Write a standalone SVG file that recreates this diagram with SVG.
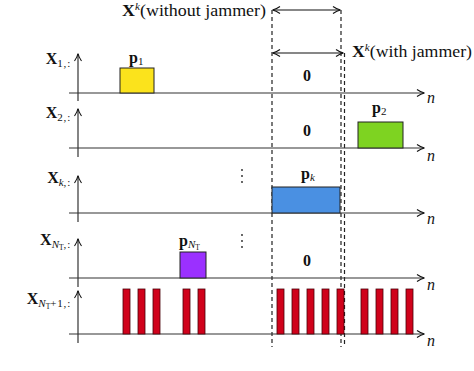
<svg xmlns="http://www.w3.org/2000/svg" width="474" height="371" viewBox="0 0 474 371">
<style>
text{font-family:"Liberation Serif","DejaVu Serif",serif;fill:#111}
.b{font-weight:bold}
.i{font-style:italic}
.lab{font-weight:bold;font-size:16px;text-anchor:end}
.s{font-weight:normal;font-size:11px;letter-spacing:0.8px}
.si{font-weight:normal;font-style:italic;font-size:11px}
.t{font-weight:normal;font-size:7.5px}
.ax{stroke:#333;stroke-width:1.2;fill:none}
.dash{stroke:#222;stroke-width:1.2;stroke-dasharray:4,3;fill:none}
.arr{stroke:#111;stroke-width:1.1;fill:none}
.box{stroke:#222;stroke-width:1}
.red{fill:#d0021b;stroke:#4a0008;stroke-width:0.8}
</style>
<defs>
<marker id="ah" markerWidth="10" markerHeight="10" refX="8" refY="5" orient="auto-start-reverse" markerUnits="userSpaceOnUse" viewBox="0 0 10 10">
<path d="M1,1.5 Q5,4.3 8.5,5 Q5,5.7 1,8.5" fill="none" stroke="#111" stroke-width="1.1"/>
</marker>
</defs>

<g id="connectors">
<line class="dash" x1="272" y1="10" x2="272" y2="347"/>
<line class="dash" x1="341" y1="10" x2="341" y2="347"/>
<line class="dash" x1="344.5" y1="53" x2="344.5" y2="347"/>
<line class="arr" x1="273" y1="10" x2="340" y2="10" marker-start="url(#ah)" marker-end="url(#ah)"/>
<line class="arr" x1="273" y1="53" x2="343" y2="53" marker-start="url(#ah)" marker-end="url(#ah)"/>
</g>

<g id="label-without">
<text x="122" y="16" font-size="16" textLength="144" lengthAdjust="spacingAndGlyphs"><tspan class="b">X</tspan><tspan class="i" font-size="10" dy="-6">k</tspan><tspan dy="6">(without jammer)</tspan></text>
</g>
<g id="label-with">
<text x="352" y="57" font-size="16" textLength="120" lengthAdjust="spacingAndGlyphs"><tspan class="b">X</tspan><tspan class="i" font-size="10" dy="-6">k</tspan><tspan dy="6">(with jammer)</tspan></text>
</g>

<g id="row1">
<line class="ax" x1="69" y1="93" x2="424" y2="93" marker-end="url(#ah)"/>
<line class="ax" x1="78" y1="101" x2="78" y2="54" marker-end="url(#ah)"/>
<text x="71" y="64" class="lab">X<tspan class="s" dy="3">1,:</tspan></text>
<text x="427" y="103" font-size="16" class="i">n</text>
<rect class="box" x="120" y="68" width="34" height="25" fill="#fbe31c"/>
<text x="129" y="63" font-size="16" class="b">p<tspan class="s" dy="2">1</tspan></text>
<text x="303" y="81" font-size="16" class="b">0</text>
</g>

<g id="row2">
<line class="ax" x1="69" y1="148" x2="424" y2="148" marker-end="url(#ah)"/>
<line class="ax" x1="78" y1="157" x2="78" y2="109" marker-end="url(#ah)"/>
<text x="71" y="118" class="lab">X<tspan class="s" dy="3">2,:</tspan></text>
<text x="427" y="161" font-size="16" class="i">n</text>
<rect class="box" x="358" y="122" width="45" height="26" fill="#7ed321"/>
<text x="372" y="113" font-size="16" class="b">p<tspan class="s" dy="2">2</tspan></text>
<text x="303" y="136" font-size="16" class="b">0</text>
</g>

<g id="rowk">
<line class="ax" x1="69" y1="213" x2="424" y2="213" marker-end="url(#ah)"/>
<line class="ax" x1="78" y1="222" x2="78" y2="176" marker-end="url(#ah)"/>
<text x="71" y="183" class="lab">X<tspan class="si" dy="3">k</tspan><tspan class="s">,:</tspan></text>
<text x="427" y="224" font-size="16" class="i">n</text>
<rect class="box" x="272" y="187" width="68" height="26" fill="#4a90e2"/>
<text x="301" y="179" font-size="16" class="b">p<tspan class="si" dy="2">k</tspan></text>
<circle cx="242" cy="170" r="0.9" fill="#222"/>
<circle cx="242" cy="176" r="0.9" fill="#222"/>
<circle cx="242" cy="182" r="0.9" fill="#222"/>
</g>

<g id="rowNT">
<line class="ax" x1="69" y1="278" x2="424" y2="278" marker-end="url(#ah)"/>
<line class="ax" x1="78" y1="287" x2="78" y2="239" marker-end="url(#ah)"/>
<text x="71" y="245" class="lab">X<tspan class="si" dy="3">N</tspan><tspan class="t" dy="1.5">T</tspan><tspan class="s" dy="-1.5">,:</tspan></text>
<text x="427" y="290" font-size="16" class="i">n</text>
<rect class="box" x="180" y="252" width="26" height="26" fill="#9b30ff"/>
<text x="179" y="246" font-size="16" class="b">p<tspan class="si" dy="2">N</tspan><tspan class="t" dy="1.5">T</tspan></text>
<text x="303" y="266" font-size="16" class="b">0</text>
<circle cx="242" cy="235" r="0.9" fill="#222"/>
<circle cx="242" cy="241" r="0.9" fill="#222"/>
<circle cx="242" cy="247" r="0.9" fill="#222"/>
</g>

<g id="rowNT1">
<line class="ax" x1="69" y1="334" x2="424" y2="334" marker-end="url(#ah)"/>
<line class="ax" x1="78" y1="343" x2="78" y2="291" marker-end="url(#ah)"/>
<text x="71" y="304" class="lab">X<tspan class="si" dy="3">N</tspan><tspan class="t" dy="1.5">T</tspan><tspan class="s" dy="-1.5">+1,:</tspan></text>
<text x="427" y="346" font-size="16" class="i">n</text>
<rect class="red" x="123" y="289" width="7" height="45"/>
<rect class="red" x="138" y="289" width="7" height="45"/>
<rect class="red" x="153" y="289" width="7" height="45"/>
<rect class="red" x="183" y="289" width="7" height="45"/>
<rect class="red" x="198" y="289" width="7" height="45"/>
<rect class="red" x="277" y="289" width="7" height="45"/>
<rect class="red" x="292" y="289" width="7" height="45"/>
<rect class="red" x="307" y="289" width="7" height="45"/>
<rect class="red" x="322" y="289" width="7" height="45"/>
<rect class="red" x="337" y="289" width="7" height="45"/>
<rect class="red" x="361" y="289" width="7" height="45"/>
<rect class="red" x="376" y="289" width="7" height="45"/>
<rect class="red" x="391" y="289" width="7" height="45"/>
<rect class="red" x="406" y="289" width="7" height="45"/>
</g>
</svg>
